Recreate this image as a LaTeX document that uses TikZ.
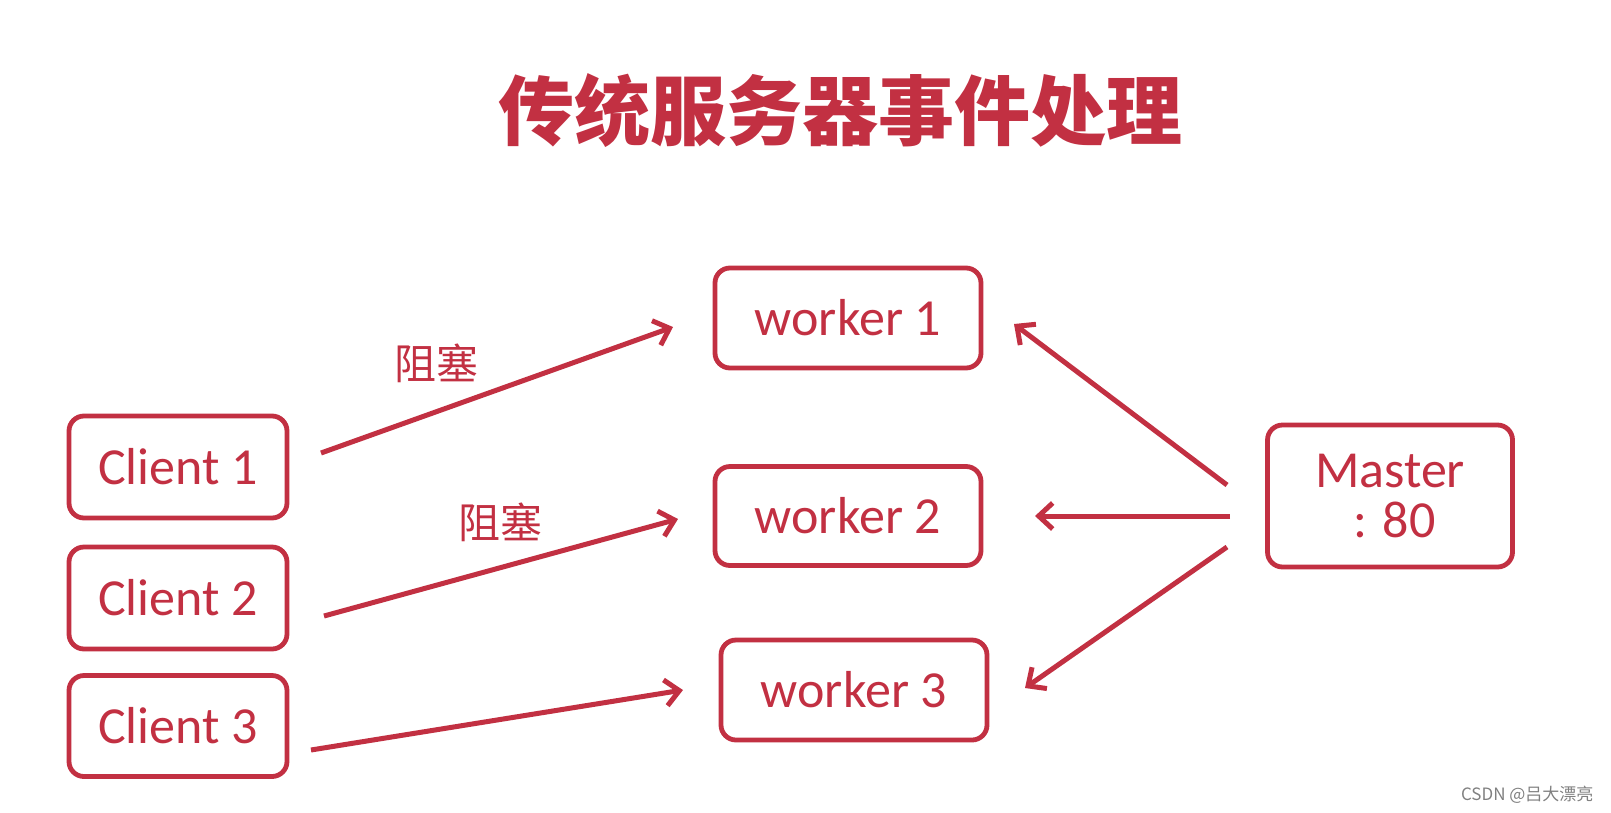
\documentclass[tikz,border=0pt]{standalone}
\usepackage{fontspec}
\setmainfont{Carlito}
\newfontfamily\cjk{Noto Sans CJK SC}
\newfontfamily\cjkb{Noto Sans CJK SC Black}
\usetikzlibrary{arrows.meta}
\definecolor{rd}{HTML}{C23042}
\begin{document}
\begin{tikzpicture}[x=1pt,y=-1pt,
  box/.style={draw=rd,line width=4.8pt,rounded corners=15pt,text=rd,font=\fontsize{52}{56}\selectfont,inner sep=0pt,align=center},
  arr/.style={draw=rd,line width=5pt,-{Straight Barb[length=14pt,width=26pt,line width=5pt]}},
  lbl/.style={text=rd,font=\cjk\fontsize{42}{44}\selectfont}]
\useasboundingbox (0,0) rectangle (1611,812);
\node[text=rd,font=\cjkb\fontsize{76}{80}\selectfont] (t) at (840,111) {传统服务器事件处理};
\node[box,minimum width=266pt,minimum height=100pt] (w1) at (848,318) {worker 1};
\node[box,minimum width=266pt,minimum height=99pt] (w2) at (848,516) {worker 2};
\node[box,minimum width=266pt,minimum height=100pt] (w3) at (854,690) {worker 3};
\node[box,minimum width=218pt,minimum height=102pt] (c1) at (178,467) {Client 1};
\node[box,minimum width=218pt,minimum height=102pt] (c2) at (178,598) {Client 2};
\node[box,minimum width=218pt,minimum height=101pt] (c3) at (178,726) {Client 3};
\node[box,minimum width=245pt,minimum height=142pt,font=\fontsize{52}{54}\selectfont] (m) at (1390,496) {Master\\[-4pt]\,: 80};
\coordinate (a1s) at (321,453); \coordinate (a1e) at (673,327);
\coordinate (a2s) at (324,616); \coordinate (a2e) at (678,519);
\coordinate (a3s) at (311,750); \coordinate (a3e) at (683,690);
\coordinate (b1s) at (1227,485); \coordinate (b1e) at (1014,324);
\coordinate (b2s) at (1230,516); \coordinate (b2e) at (1035,516);
\coordinate (b3s) at (1227,547); \coordinate (b3e) at (1025,688);
\draw[arr] (a1s) -- (a1e);
\draw[arr] (a2s) -- (a2e);
\draw[arr] (a3s) -- (a3e);
\draw[arr] (b1s) -- (b1e);
\draw[arr] (b2s) -- (b2e);
\draw[arr] (b3s) -- (b3e);
\node[lbl] (l1) at (436,363) {阻塞};
\node[lbl] (l2) at (500,522) {阻塞};
\node[text=gray,font=\cjk\fontsize{17}{20}\selectfont,anchor=east] (cs) at (1597,795) {CSDN @吕大漂亮};
\end{tikzpicture}
\end{document}
